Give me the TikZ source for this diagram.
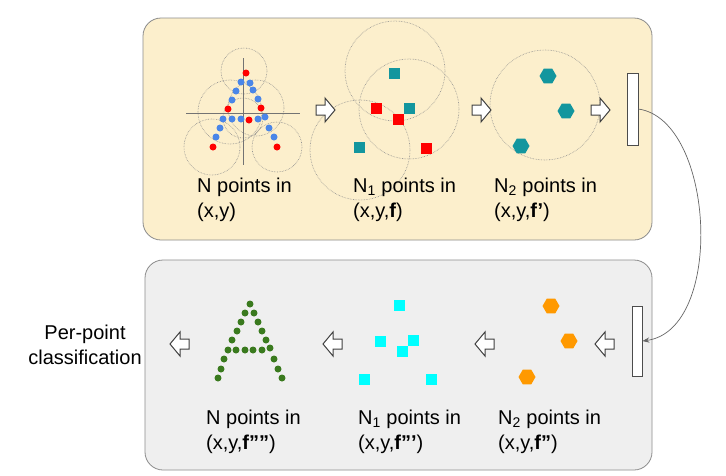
\documentclass[tikz,border=0pt]{standalone}
\usepackage{fontspec}
\setmainfont{Liberation Sans}
\usetikzlibrary{shapes.geometric,arrows.meta}
\definecolor{ptop}{HTML}{FCEFCC}
\definecolor{pbot}{HTML}{EFEFEF}
\definecolor{bdot}{HTML}{4A86E8}
\definecolor{rdot}{HTML}{FF0000}
\definecolor{tsqc}{HTML}{13969E}
\definecolor{cyc}{HTML}{00FFFF}
\definecolor{gdot}{HTML}{3A7A1E}
\definecolor{orc}{HTML}{FF9900}
\begin{document}
\begin{tikzpicture}[x=1pt,y=-1pt,
  panel/.style={rounded corners=18pt,draw=black!45,line width=0.8pt},
  circ/.style={draw=black!45,densely dotted,line width=0.6pt},
  rd/.style={fill=rdot,circle,inner sep=0pt,minimum size=7pt},
  bd/.style={fill=bdot,circle,inner sep=0pt,minimum size=7pt},
  gd/.style={fill=gdot,circle,inner sep=0pt,minimum size=7pt},
  rsq/.style={fill=rdot,inner sep=0pt,minimum size=11pt},
  tsq/.style={fill=tsqc,inner sep=0pt,minimum size=11pt},
  csq/.style={fill=cyc,inner sep=0pt,minimum size=11pt},
  thex/.style={regular polygon,regular polygon sides=6,fill=tsqc,inner sep=0pt,minimum size=17pt},
  ohex/.style={regular polygon,regular polygon sides=6,fill=orc,inner sep=0pt,minimum size=17pt},
  lab/.style={anchor=north west,align=left,font=\fontsize{20}{25}\selectfont,inner sep=0pt},
  bar/.style={draw=black!70,fill=white,line width=0.8pt},
  hol/.style={draw=black!75,fill=white,line width=1pt}]
\useasboundingbox (0,0) rectangle (726,475);
\fill[white] (0,0) rectangle (726,475);
\draw[panel,fill=ptop] (143,18) rectangle (652,240);
\draw[panel,fill=pbot] (145,260) rectangle (652,470);
% top-left A
\draw[circ] (244,71) circle (23);
\draw[circ] (230,112) circle (32);
\draw[circ] (256,108) circle (28);
\draw[circ] (212,147) circle (28);
\draw[circ] (277,147) circle (25);
\draw[circ] (243,118) circle (20);
\draw[black!55,line width=0.6pt] (243,58) -- (243,165);
\draw[black!55,line width=0.6pt] (186,113) -- (300,113);
\foreach \p [count=\i] in {(246,73),(228,109),(261,108),(249,120),(213,147),(277,147)}
  \node[rd] (r\i) at \p {};
\foreach \p [count=\i] in {(241,82),(250,83),(236,91),(253,90),(232,100),(258,99),(223,119),(232,119),(241,119),(258,119),(265,117),(220,128),(269,128),(216,137),(274,137)}
  \node[bd] (b\i) at \p {};
% group 2
\draw[circ] (395,71) circle (50);
\draw[circ] (409,109) circle (50);
\draw[circ] (360,150) circle (50);
\node[rsq] (s1) at (376,108) {};
\node[rsq] (s2) at (398,119) {};
\node[rsq] (s3) at (426,148) {};
\node[tsq] (s4) at (394,73) {};
\node[tsq] (s5) at (409,108) {};
\node[tsq] (s6) at (359,147) {};
% group 3
\draw[circ] (545,105) circle (55);
\node[thex] (h1) at (548,76) {};
\node[thex] (h2) at (566,111) {};
\node[thex] (h3) at (521,146) {};
% hollow arrows
\foreach \x in {325,481,600}
  \draw[hol] (\x-9,105) -- (\x,105) -- (\x,98) -- (\x+10,110) -- (\x,122) -- (\x,115) -- (\x-9,115) -- cycle;
\foreach \x in {605,485,333,180}
  \draw[hol] (\x+9,339) -- (\x,339) -- (\x,332) -- (\x-10,344) -- (\x,356) -- (\x,349) -- (\x+9,349) -- cycle;
\node[bar,minimum width=11pt,minimum height=72pt,inner sep=0pt] (bt) at (632.5,109) {};
\node[bar,minimum width=10pt,minimum height=70pt,inner sep=0pt] (bb) at (637,341) {};
\draw[-{Stealth[length=7pt]},black!60,line width=0.7pt] (bt.east) .. controls (715,120) and (725,330) .. (bb.east);
% labels top
\node[lab] (l1) at (197,178) {N points in\\(x,y)};
\node[lab] (l2) at (353,178) {N\textsubscript{1} points in\\(x,y,\textbf{f})};
\node[lab] (l3) at (494,178) {N\textsubscript{2} points in\\(x,y,\textbf{f'})};
% bottom
\node[ohex] (o1) at (551,306) {};
\node[ohex] (o2) at (569,341) {};
\node[ohex] (o3) at (527,377) {};
\foreach \p [count=\i] in {(399,305),(380,341),(413,340),(402,351),(364,379),(431,379)}
  \node[csq] (c\i) at \p {};
\foreach \p [count=\i] in {(250,304),(245,313),(254,313),(241,322),(258,322),(237,331),(262,331),(232,340),(266,340),(228,350),(236,350),(245,350),(253,350),(262,350),(270,348),(224,359),(274,359),(221,369),(278,369),(218,378),(282,378)}
  \node[gd] (g\i) at \p {};
\node[lab] (l4) at (206,410) {N points in\\(x,y,\textbf{f''''})};
\node[lab] (l5) at (358,410) {N\textsubscript{1} points in\\(x,y,\textbf{f'''})};
\node[lab] (l6) at (498,410) {N\textsubscript{2} points in\\(x,y,\textbf{f''})};
\node[align=center,font=\fontsize{20}{25}\selectfont] (pc) at (85,345) {Per-point\\classification};
\end{tikzpicture}
\end{document}
